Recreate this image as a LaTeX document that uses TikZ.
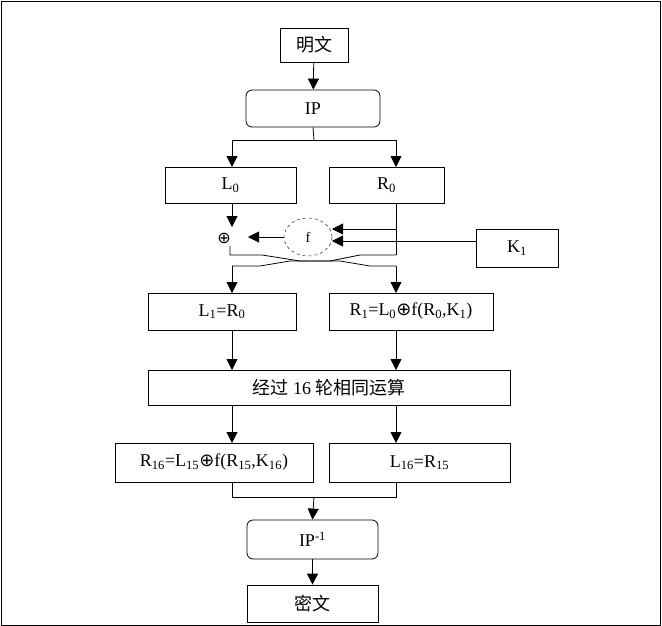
\documentclass[tikz,border=0pt]{standalone}
\usepackage{fontspec}
\setmainfont{Liberation Serif}
\newfontfamily\cjk{Noto Sans CJK SC}
\newfontfamily\djv{DejaVu Sans}
\usetikzlibrary{arrows.meta,shapes.geometric}
\newcommand{\xo}{{\djv ⊕}}
\begin{document}
\begin{tikzpicture}[x=1pt,y=-1pt,
  bx/.style={draw,thick,minimum height=36pt,inner sep=0pt,font=\fontsize{18}{20}\selectfont},
  rbx/.style={bx,rounded corners=6pt},
  ar/.style={thick,-{Triangle[width=11pt,length=11pt]}},
  ln/.style={thick}]
\useasboundingbox (0,0) rectangle (662,626);
\draw[thick] (1,1) rectangle (660,625);
\node[bx,minimum width=68pt,minimum height=34pt] (pt) at (314,45) {\cjk 明文};
\node[rbx,minimum width=134pt,minimum height=37pt] (ip) at (313,108.5) {IP};
\node[bx,minimum width=131pt] (l0) at (230.5,185) {L\textsubscript{0}};
\node[bx,minimum width=115pt] (r0) at (386.5,185) {R\textsubscript{0}};
\node[draw,dashed,ellipse,minimum width=48pt,minimum height=38pt,inner sep=0pt,font=\Large] (f) at (308,237) {f};
\node[bx,minimum width=82pt,minimum height=38pt] (k1) at (517,248) {K\textsubscript{1}};
\node[inner sep=0pt,font=\fontsize{16}{18}\selectfont] (xo) at (224,238) {\xo};
\node[bx,minimum width=148pt,minimum height=37pt] (l1) at (222,311.5) {L\textsubscript{1}=R\textsubscript{0}};
\node[bx,minimum width=164pt,minimum height=37pt] (r1) at (411,311.5) {R\textsubscript{1}=L\textsubscript{0}\xo f(R\textsubscript{0},K\textsubscript{1})};
\node[bx,minimum width=362pt,minimum height=35pt] (big) at (329,387.5) {\cjk 经过 {\rmfamily 16} 轮相同运算};
\node[bx,minimum width=198pt,minimum height=39pt] (r16) at (214,462.5) {R\textsubscript{16}=L\textsubscript{15}\xo f(R\textsubscript{15},K\textsubscript{16})};
\node[bx,minimum width=181pt,minimum height=39pt] (l16) at (419.5,462.5) {L\textsubscript{16}=R\textsubscript{15}};
\node[rbx,minimum width=131pt,minimum height=39pt] (ipi) at (312.5,539.5) {IP\textsuperscript{-1}};
\node[bx,minimum width=131pt,minimum height=37pt] (ct) at (312.5,603.5) {\cjk 密文};
\coordinate (s1) at (314,140);
\draw[ar] (pt) -- (ip);
\draw[ln] (ip.south) -- (s1);
\draw[ar] (s1) -| (232,167);
\draw[ar] (s1) -| (396,167);
\draw[ar] (232,203) -- (232,227);
\draw[ar] (f.west) -- (248,237);
\draw[ln] (396,203) -- (396,255);
\draw[ar] (396,229) -- (332,229);
\draw[ar] (k1.west |- 0,241) -- (332,241);
\draw[ln] (230,246) -- (230,255) -- (262,255) -- (300,261) -- (340,261) -- (370,266) -- (396,266);
\draw[ar] (396,266) -- (396,293);
\draw[ln] (396,255) -- (360,255) -- (330,261) -- (290,261) -- (260,266) -- (232,266);
\draw[ar] (232,266) -- (232,293);
\draw[ar] (232,330) -- (232,370);
\draw[ar] (396,330) -- (396,370);
\draw[ar] (232,405) -- (232,443);
\draw[ar] (396,405) -- (396,443);
\draw[ln] (232,482) -- (232,497) -- (396,497) -- (396,482);
\draw[ar] (314,497) -- (ipi.north);
\draw[ar] (ipi) -- (ct);
\end{tikzpicture}
\end{document}
